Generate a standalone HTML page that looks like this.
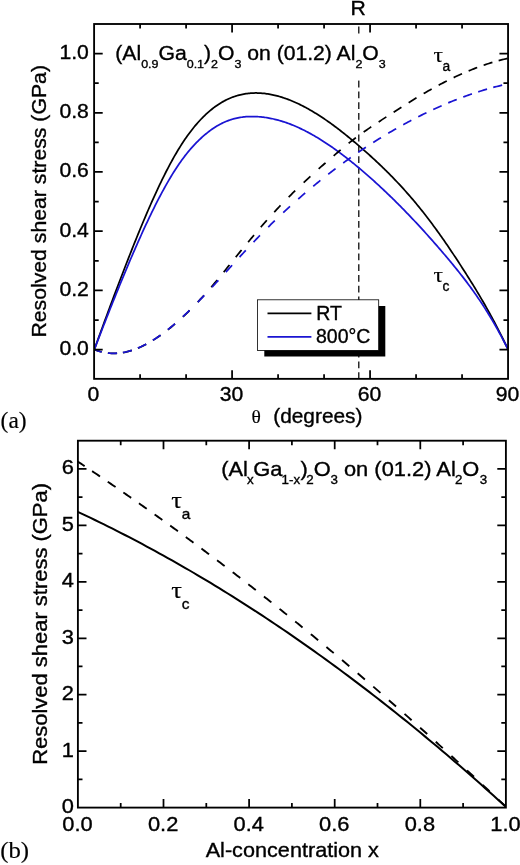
<!DOCTYPE html>
<html lang="en"><head><meta charset="utf-8"><title>Resolved shear stress</title>
<style>html,body{margin:0;padding:0;background:#fff}svg{display:block}text{font-family:"Liberation Sans",Arial,Helvetica,sans-serif;fill:#000;stroke:#000;stroke-width:0.35px}.s{font-family:"Liberation Serif","Times New Roman",serif;stroke-width:0.15px}</style></head><body>
<svg width="520" height="865" viewBox="0 0 520 865">
<rect width="520" height="865" fill="#fff"/>
<clipPath id="ca"><rect x="94.1" y="24.0" width="413.95" height="354.85"/></clipPath>
<g clip-path="url(#ca)" fill="none" stroke-linejoin="round">
<path d="M358.80,24.0 V378.85" stroke="#000" stroke-width="1.25" stroke-dasharray="6.8 4" stroke-dashoffset="8.2"/>
<rect x="112" y="34.2" width="276" height="46" fill="#fff" stroke="none"/>
<path d="M94.30,349.60 L95.45,346.41 L96.60,343.24 L97.75,340.06 L98.90,336.90 L100.05,333.74 L101.20,330.58 L102.35,327.44 L103.50,324.30 L104.65,321.17 L105.80,318.05 L106.94,314.93 L108.09,311.82 L109.24,308.72 L110.39,305.63 L111.54,302.55 L112.69,299.47 L113.84,296.40 L114.99,293.35 L116.14,290.30 L117.29,287.26 L118.44,284.23 L119.59,281.21 L120.74,278.20 L121.89,275.20 L123.04,272.21 L124.19,269.23 L125.34,266.26 L126.49,263.30 L127.64,260.36 L128.78,257.42 L129.93,254.49 L131.08,251.58 L132.23,248.68 L133.38,245.80 L134.53,242.92 L135.68,240.07 L136.83,237.22 L137.98,234.40 L139.13,231.59 L140.28,228.79 L141.43,226.02 L142.58,223.26 L143.73,220.52 L144.88,217.80 L146.03,215.10 L147.18,212.42 L148.33,209.76 L149.48,207.12 L150.63,204.50 L151.78,201.91 L152.92,199.34 L154.07,196.79 L155.22,194.27 L156.37,191.77 L157.52,189.30 L158.67,186.86 L159.82,184.44 L160.97,182.04 L162.12,179.68 L163.27,177.34 L164.42,175.04 L165.57,172.76 L166.72,170.51 L167.87,168.30 L169.02,166.11 L170.17,163.96 L171.32,161.84 L172.47,159.75 L173.62,157.69 L174.76,155.67 L175.91,153.69 L177.06,151.74 L178.21,149.82 L179.36,147.94 L180.51,146.10 L181.66,144.30 L182.81,142.53 L183.96,140.80 L185.11,139.10 L186.26,137.44 L187.41,135.82 L188.56,134.23 L189.71,132.68 L190.86,131.16 L192.01,129.68 L193.16,128.23 L194.31,126.81 L195.46,125.43 L196.61,124.08 L197.75,122.76 L198.90,121.48 L200.05,120.23 L201.20,119.01 L202.35,117.83 L203.50,116.67 L204.65,115.55 L205.80,114.46 L206.95,113.40 L208.10,112.37 L209.25,111.37 L210.40,110.40 L211.55,109.46 L212.70,108.55 L213.85,107.67 L215.00,106.81 L216.15,105.99 L217.30,105.19 L218.45,104.43 L219.60,103.69 L220.75,102.97 L221.89,102.29 L223.04,101.63 L224.19,101.00 L225.34,100.39 L226.49,99.81 L227.64,99.26 L228.79,98.73 L229.94,98.23 L231.09,97.75 L232.24,97.30 L233.39,96.87 L234.54,96.47 L235.69,96.09 L236.84,95.73 L237.99,95.39 L239.14,95.08 L240.29,94.80 L241.44,94.53 L242.59,94.29 L243.74,94.07 L244.88,93.86 L246.03,93.69 L247.18,93.53 L248.33,93.39 L249.48,93.28 L250.63,93.18 L251.78,93.10 L252.93,93.05 L254.08,93.01 L255.23,92.99 L256.38,92.99 L257.53,93.01 L258.68,93.05 L259.83,93.10 L260.98,93.17 L262.13,93.26 L263.28,93.37 L264.43,93.49 L265.58,93.64 L266.72,93.79 L267.87,93.96 L269.02,94.15 L270.17,94.36 L271.32,94.58 L272.47,94.81 L273.62,95.06 L274.77,95.32 L275.92,95.60 L277.07,95.90 L278.22,96.20 L279.37,96.53 L280.52,96.86 L281.67,97.21 L282.82,97.58 L283.97,97.96 L285.12,98.35 L286.27,98.75 L287.42,99.17 L288.57,99.60 L289.71,100.05 L290.86,100.51 L292.01,100.98 L293.16,101.46 L294.31,101.96 L295.46,102.47 L296.61,102.99 L297.76,103.52 L298.91,104.07 L300.06,104.62 L301.21,105.19 L302.36,105.77 L303.51,106.36 L304.66,106.97 L305.81,107.58 L306.96,108.21 L308.11,108.84 L309.26,109.49 L310.41,110.15 L311.56,110.82 L312.70,111.49 L313.85,112.18 L315.00,112.88 L316.15,113.59 L317.30,114.31 L318.45,115.04 L319.60,115.78 L320.75,116.52 L321.90,117.28 L323.05,118.05 L324.20,118.82 L325.35,119.61 L326.50,120.40 L327.65,121.20 L328.80,122.01 L329.95,122.83 L331.10,123.66 L332.25,124.49 L333.40,125.33 L334.55,126.18 L335.69,127.04 L336.84,127.91 L337.99,128.78 L339.14,129.66 L340.29,130.55 L341.44,131.44 L342.59,132.34 L343.74,133.25 L344.89,134.17 L346.04,135.09 L347.19,136.02 L348.34,136.95 L349.49,137.89 L350.64,138.84 L351.79,139.79 L352.94,140.74 L354.09,141.71 L355.24,142.67 L356.39,143.65 L357.54,144.63 L358.69,145.61 L359.83,146.60 L360.98,147.59 L362.13,148.59 L363.28,149.59 L364.43,150.60 L365.58,151.61 L366.73,152.63 L367.88,153.66 L369.03,154.69 L370.18,155.73 L371.33,156.77 L372.48,157.82 L373.63,158.87 L374.78,159.94 L375.93,161.00 L377.08,162.08 L378.23,163.16 L379.38,164.25 L380.53,165.35 L381.68,166.45 L382.82,167.56 L383.97,168.68 L385.12,169.80 L386.27,170.94 L387.42,172.08 L388.57,173.23 L389.72,174.39 L390.87,175.55 L392.02,176.73 L393.17,177.91 L394.32,179.10 L395.47,180.30 L396.62,181.51 L397.77,182.73 L398.92,183.95 L400.07,185.19 L401.22,186.44 L402.37,187.69 L403.52,188.96 L404.67,190.23 L405.81,191.52 L406.96,192.81 L408.11,194.12 L409.26,195.43 L410.41,196.76 L411.56,198.10 L412.71,199.44 L413.86,200.80 L415.01,202.17 L416.16,203.55 L417.31,204.94 L418.46,206.34 L419.61,207.76 L420.76,209.18 L421.91,210.62 L423.06,212.07 L424.21,213.53 L425.36,215.01 L426.51,216.49 L427.66,217.99 L428.80,219.50 L429.95,221.02 L431.10,222.55 L432.25,224.10 L433.40,225.65 L434.55,227.22 L435.70,228.80 L436.85,230.38 L438.00,231.98 L439.15,233.59 L440.30,235.21 L441.45,236.84 L442.60,238.47 L443.75,240.12 L444.90,241.78 L446.05,243.45 L447.20,245.12 L448.35,246.81 L449.50,248.50 L450.64,250.20 L451.79,251.91 L452.94,253.63 L454.09,255.36 L455.24,257.10 L456.39,258.84 L457.54,260.59 L458.69,262.35 L459.84,264.11 L460.99,265.89 L462.14,267.67 L463.29,269.46 L464.44,271.25 L465.59,273.05 L466.74,274.86 L467.89,276.68 L469.04,278.50 L470.19,280.34 L471.34,282.18 L472.49,284.04 L473.63,285.91 L474.78,287.78 L475.93,289.67 L477.08,291.58 L478.23,293.49 L479.38,295.42 L480.53,297.36 L481.68,299.32 L482.83,301.29 L483.98,303.28 L485.13,305.29 L486.28,307.31 L487.43,309.35 L488.58,311.40 L489.73,313.48 L490.88,315.57 L492.03,317.68 L493.18,319.82 L494.33,321.97 L495.48,324.14 L496.62,326.34 L497.77,328.56 L498.92,330.80 L500.07,333.06 L501.22,335.35 L502.37,337.66 L503.52,340.00 L504.67,342.36 L505.82,344.75 L506.97,347.16 L508.12,349.60" stroke="#000" stroke-width="1.75"/>
<path d="M94.30,349.60 L95.45,346.60 L96.60,343.61 L97.75,340.62 L98.90,337.64 L100.05,334.67 L101.20,331.71 L102.35,328.75 L103.50,325.80 L104.65,322.86 L105.80,319.93 L106.94,317.01 L108.09,314.09 L109.24,311.19 L110.39,308.29 L111.54,305.41 L112.69,302.53 L113.84,299.66 L114.99,296.81 L116.14,293.96 L117.29,291.13 L118.44,288.30 L119.59,285.49 L120.74,282.69 L121.89,279.90 L123.04,277.12 L124.19,274.35 L125.34,271.60 L126.49,268.86 L127.64,266.13 L128.78,263.41 L129.93,260.71 L131.08,258.02 L132.23,255.34 L133.38,252.68 L134.53,250.03 L135.68,247.40 L136.83,244.79 L137.98,242.19 L139.13,239.60 L140.28,237.04 L141.43,234.49 L142.58,231.96 L143.73,229.45 L144.88,226.96 L146.03,224.49 L147.18,222.03 L148.33,219.60 L149.48,217.19 L150.63,214.80 L151.78,212.43 L152.92,210.09 L154.07,207.77 L155.22,205.47 L156.37,203.20 L157.52,200.95 L158.67,198.72 L159.82,196.52 L160.97,194.35 L162.12,192.20 L163.27,190.08 L164.42,187.99 L165.57,185.93 L166.72,183.89 L167.87,181.88 L169.02,179.91 L170.17,177.96 L171.32,176.05 L172.47,174.16 L173.62,172.31 L174.76,170.49 L175.91,168.70 L177.06,166.95 L178.21,165.23 L179.36,163.54 L180.51,161.89 L181.66,160.28 L182.81,158.70 L183.96,157.15 L185.11,155.65 L186.26,154.18 L187.41,152.74 L188.56,151.34 L189.71,149.97 L190.86,148.64 L192.01,147.34 L193.16,146.07 L194.31,144.83 L195.46,143.62 L196.61,142.44 L197.75,141.29 L198.90,140.17 L200.05,139.07 L201.20,138.00 L202.35,136.96 L203.50,135.94 L204.65,134.95 L205.80,133.99 L206.95,133.06 L208.10,132.15 L209.25,131.27 L210.40,130.41 L211.55,129.58 L212.70,128.78 L213.85,128.01 L215.00,127.26 L216.15,126.54 L217.30,125.84 L218.45,125.18 L219.60,124.54 L220.75,123.93 L221.89,123.34 L223.04,122.78 L224.19,122.25 L225.34,121.75 L226.49,121.27 L227.64,120.82 L228.79,120.40 L229.94,119.99 L231.09,119.62 L232.24,119.26 L233.39,118.94 L234.54,118.63 L235.69,118.35 L236.84,118.09 L237.99,117.85 L239.14,117.63 L240.29,117.43 L241.44,117.25 L242.59,117.10 L243.74,116.96 L244.88,116.84 L246.03,116.74 L247.18,116.66 L248.33,116.60 L249.48,116.55 L250.63,116.52 L251.78,116.51 L252.93,116.51 L254.08,116.53 L255.23,116.56 L256.38,116.61 L257.53,116.67 L258.68,116.75 L259.83,116.84 L260.98,116.94 L262.13,117.06 L263.28,117.20 L264.43,117.34 L265.58,117.50 L266.72,117.68 L267.87,117.87 L269.02,118.07 L270.17,118.29 L271.32,118.52 L272.47,118.76 L273.62,119.02 L274.77,119.29 L275.92,119.57 L277.07,119.87 L278.22,120.17 L279.37,120.50 L280.52,120.83 L281.67,121.18 L282.82,121.54 L283.97,121.91 L285.12,122.29 L286.27,122.69 L287.42,123.09 L288.57,123.51 L289.71,123.94 L290.86,124.39 L292.01,124.84 L293.16,125.31 L294.31,125.79 L295.46,126.28 L296.61,126.78 L297.76,127.29 L298.91,127.81 L300.06,128.34 L301.21,128.89 L302.36,129.44 L303.51,130.01 L304.66,130.59 L305.81,131.17 L306.96,131.77 L308.11,132.38 L309.26,132.99 L310.41,133.62 L311.56,134.26 L312.70,134.91 L313.85,135.56 L315.00,136.23 L316.15,136.91 L317.30,137.59 L318.45,138.29 L319.60,138.99 L320.75,139.71 L321.90,140.43 L323.05,141.16 L324.20,141.90 L325.35,142.65 L326.50,143.41 L327.65,144.17 L328.80,144.95 L329.95,145.73 L331.10,146.52 L332.25,147.32 L333.40,148.13 L334.55,148.95 L335.69,149.77 L336.84,150.60 L337.99,151.44 L339.14,152.29 L340.29,153.14 L341.44,154.00 L342.59,154.87 L343.74,155.74 L344.89,156.63 L346.04,157.52 L347.19,158.41 L348.34,159.32 L349.49,160.23 L350.64,161.14 L351.79,162.06 L352.94,162.99 L354.09,163.93 L355.24,164.87 L356.39,165.82 L357.54,166.77 L358.69,167.73 L359.83,168.69 L360.98,169.67 L362.13,170.64 L363.28,171.62 L364.43,172.61 L365.58,173.61 L366.73,174.60 L367.88,175.61 L369.03,176.62 L370.18,177.64 L371.33,178.66 L372.48,179.68 L373.63,180.72 L374.78,181.75 L375.93,182.80 L377.08,183.85 L378.23,184.90 L379.38,185.96 L380.53,187.03 L381.68,188.10 L382.82,189.18 L383.97,190.26 L385.12,191.35 L386.27,192.44 L387.42,193.54 L388.57,194.64 L389.72,195.75 L390.87,196.86 L392.02,197.98 L393.17,199.11 L394.32,200.24 L395.47,201.38 L396.62,202.52 L397.77,203.66 L398.92,204.81 L400.07,205.97 L401.22,207.13 L402.37,208.30 L403.52,209.47 L404.67,210.65 L405.81,211.83 L406.96,213.02 L408.11,214.22 L409.26,215.41 L410.41,216.62 L411.56,217.83 L412.71,219.04 L413.86,220.26 L415.01,221.48 L416.16,222.71 L417.31,223.95 L418.46,225.19 L419.61,226.43 L420.76,227.68 L421.91,228.93 L423.06,230.19 L424.21,231.46 L425.36,232.73 L426.51,234.00 L427.66,235.28 L428.80,236.56 L429.95,237.85 L431.10,239.15 L432.25,240.44 L433.40,241.75 L434.55,243.06 L435.70,244.37 L436.85,245.69 L438.00,247.01 L439.15,248.34 L440.30,249.67 L441.45,251.01 L442.60,252.35 L443.75,253.70 L444.90,255.05 L446.05,256.40 L447.20,257.77 L448.35,259.13 L449.50,260.51 L450.64,261.89 L451.79,263.27 L452.94,264.67 L454.09,266.07 L455.24,267.48 L456.39,268.90 L457.54,270.33 L458.69,271.77 L459.84,273.22 L460.99,274.68 L462.14,276.15 L463.29,277.63 L464.44,279.12 L465.59,280.63 L466.74,282.15 L467.89,283.69 L469.04,285.24 L470.19,286.80 L471.34,288.38 L472.49,289.97 L473.63,291.58 L474.78,293.21 L475.93,294.85 L477.08,296.51 L478.23,298.19 L479.38,299.88 L480.53,301.60 L481.68,303.33 L482.83,305.09 L483.98,306.86 L485.13,308.65 L486.28,310.47 L487.43,312.31 L488.58,314.17 L489.73,316.05 L490.88,317.95 L492.03,319.88 L493.18,321.83 L494.33,323.81 L495.48,325.81 L496.62,327.84 L497.77,329.89 L498.92,331.97 L500.07,334.07 L501.22,336.21 L502.37,338.37 L503.52,340.56 L504.67,342.77 L505.82,345.02 L506.97,347.30 L508.12,349.60" stroke="#1a14d2" stroke-width="1.75"/>
<path d="M94.30,349.60 L96.12,350.29 L97.97,350.93 L99.83,351.49 L101.72,351.98 M107.90,353.08 L109.73,353.25 L111.57,353.36 L113.41,353.40 L115.25,353.38 L117.09,353.29 M122.90,352.61 L124.71,352.27 L126.51,351.89 L128.29,351.44 L130.07,350.95 L131.82,350.41 M137.90,348.17 L139.59,347.45 L141.27,346.69 L142.93,345.89 L144.57,345.07 L146.20,344.22 M152.90,340.35 L154.46,339.37 L156.00,338.37 L157.53,337.35 L159.05,336.31 L160.56,335.25 M167.90,329.76 L169.34,328.62 L170.77,327.46 L172.19,326.29 L173.60,325.11 L175.01,323.92 M182.90,316.86 L184.24,315.60 L185.58,314.33 L186.90,313.06 L188.22,311.78 L189.53,310.48 M197.70,302.12 L198.96,300.78 L200.21,299.44 L201.46,298.09 L202.70,296.73 L203.94,295.37 M211.22,287.12 L212.42,285.73 L213.62,284.33 L214.81,282.93 L215.99,281.52 L217.17,280.11 M223.69,272.12 L224.85,270.69 L226.00,269.26 L227.15,267.82 L228.30,266.38 L229.45,264.95 M235.73,257.12 L236.89,255.70 L238.06,254.27 L239.22,252.85 L240.39,251.43 L241.57,250.01 M248.13,242.12 L249.31,240.71 L250.49,239.30 L251.67,237.89 L252.85,236.48 L254.03,235.07 M260.79,227.12 L261.99,225.73 L263.20,224.35 L264.41,222.96 L265.63,221.58 L266.85,220.21 M274.21,212.12 L275.46,210.78 L276.72,209.44 L277.98,208.10 L279.25,206.76 L280.52,205.43 M288.65,197.12 L289.95,195.82 L291.26,194.53 L292.57,193.24 L293.88,191.95 L295.20,190.66 M303.65,182.59 L305.00,181.34 L306.34,180.08 L307.69,178.83 L309.05,177.59 L310.40,176.34 M318.65,168.89 L320.03,167.67 L321.41,166.45 L322.79,165.24 L324.17,164.02 L325.55,162.81 M333.65,155.80 L335.05,154.60 L336.45,153.40 L337.85,152.21 L339.25,151.02 L340.66,149.83 M348.65,143.24 L350.09,142.10 L351.54,140.96 L353.00,139.84 L354.46,138.73 L355.93,137.62 M363.65,132.04 L365.16,130.99 L366.67,129.94 L368.19,128.90 L369.71,127.87 L371.24,126.84 M378.65,121.91 L380.19,120.90 L381.73,119.89 L383.27,118.88 L384.81,117.88 L386.35,116.87 M393.65,112.14 L395.20,111.14 L396.75,110.15 L398.30,109.16 L399.85,108.17 L401.41,107.18 M408.65,102.64 L410.22,101.68 L411.79,100.71 L413.36,99.75 L414.93,98.80 L416.50,97.85 M423.65,93.61 L425.24,92.69 L426.84,91.77 L428.44,90.85 L430.04,89.95 L431.64,89.04 M438.65,85.21 L440.28,84.34 L441.91,83.48 L443.54,82.63 L445.17,81.79 L446.81,80.96 M453.65,77.60 L455.32,76.81 L456.98,76.03 L458.65,75.26 L460.33,74.50 L462.01,73.75 M468.65,70.90 L470.36,70.20 L472.06,69.52 L473.77,68.84 L475.49,68.18 L477.21,67.53 M483.65,65.21 L485.40,64.62 L487.14,64.04 L488.89,63.48 L490.65,62.93 L492.41,62.39 M498.65,60.62 L500.43,60.16 L502.22,59.71 L504.00,59.27 L505.80,58.85 L507.59,58.45" stroke="#000" stroke-width="1.75"/>
<path d="M94.30,349.60 L96.13,350.28 L97.97,350.91 L99.84,351.46 L101.73,351.94 M107.90,353.01 L109.73,353.17 L111.57,353.27 L113.41,353.31 L115.25,353.28 L117.09,353.19 M122.90,352.50 L124.71,352.16 L126.51,351.77 L128.29,351.32 L130.06,350.83 L131.82,350.29 M137.90,348.05 L139.59,347.33 L141.27,346.57 L142.93,345.77 L144.57,344.95 L146.20,344.10 M152.90,340.22 L154.45,339.24 L156.00,338.24 L157.53,337.22 L159.04,336.17 L160.55,335.11 M167.90,329.58 L169.34,328.43 L170.76,327.27 L172.18,326.09 L173.59,324.91 L174.99,323.72 M182.90,316.66 L184.25,315.41 L185.59,314.15 L186.92,312.88 L188.25,311.61 L189.57,310.33 M197.86,302.07 L199.15,300.75 L200.43,299.43 L201.71,298.11 L202.98,296.78 L204.26,295.45 M212.14,287.07 L213.39,285.72 L214.64,284.37 L215.89,283.02 L217.13,281.66 L218.38,280.31 M225.90,272.07 L227.14,270.71 L228.38,269.35 L229.61,267.99 L230.85,266.62 L232.09,265.26 M239.57,257.07 L240.82,255.71 L242.06,254.36 L243.31,253.01 L244.56,251.66 L245.81,250.31 M253.55,242.07 L254.82,240.74 L256.10,239.41 L257.37,238.09 L258.65,236.76 L259.94,235.45 M268.24,227.08 L269.54,225.78 L270.85,224.49 L272.17,223.20 L273.49,221.92 L274.81,220.64 M283.24,212.63 L284.58,211.37 L285.93,210.12 L287.28,208.87 L288.64,207.63 L290.00,206.39 M298.24,199.02 L299.62,197.80 L301.00,196.59 L302.39,195.39 L303.79,194.19 L305.18,192.99 M313.24,186.22 L314.65,185.05 L316.08,183.88 L317.50,182.72 L318.93,181.56 L320.37,180.41 M328.24,174.20 L329.69,173.07 L331.15,171.95 L332.61,170.83 L334.08,169.72 L335.55,168.61 M343.24,162.92 L344.72,161.84 L346.22,160.77 L347.71,159.70 L349.21,158.63 L350.72,157.57 M358.24,152.37 L359.76,151.34 L361.28,150.31 L362.81,149.29 L364.35,148.27 L365.88,147.25 M373.24,142.50 L374.79,141.51 L376.35,140.54 L377.91,139.56 L379.47,138.59 L381.04,137.63 M388.24,133.28 L389.82,132.35 L391.41,131.42 L393.00,130.49 L394.59,129.57 L396.19,128.66 M403.24,124.70 L404.85,123.82 L406.46,122.94 L408.08,122.06 L409.71,121.19 L411.33,120.33 M418.24,116.76 L419.88,115.93 L421.52,115.11 L423.17,114.29 L424.82,113.48 L426.48,112.68 M433.24,109.48 L434.91,108.71 L436.58,107.95 L438.26,107.20 L439.94,106.45 L441.63,105.71 M448.24,102.89 L449.94,102.18 L451.64,101.49 L453.35,100.80 L455.06,100.12 L456.77,99.45 M463.24,97.00 L464.96,96.37 L466.69,95.74 L468.43,95.13 L470.17,94.52 L471.91,93.93 M478.24,91.84 L479.99,91.28 L481.75,90.74 L483.51,90.20 L485.27,89.67 L487.04,89.15 M493.24,87.42 L495.01,86.95 L496.79,86.48 L498.58,86.03 L500.36,85.59 L502.15,85.16" stroke="#1a14d2" stroke-width="1.75"/>
</g>
<rect x="94.1" y="24.0" width="413.95" height="354.85" fill="none" stroke="#000" stroke-width="1.85"/>
<path d="M140.09,378.85 v-4.6 M140.09,24.0 v4.6 M186.09,378.85 v-4.6 M186.09,24.0 v4.6 M232.08,378.85 v-8.6 M232.08,24.0 v8.6 M278.08,378.85 v-4.6 M278.08,24.0 v4.6 M324.07,378.85 v-4.6 M324.07,24.0 v4.6 M370.07,378.85 v-8.6 M370.07,24.0 v8.6 M416.06,378.85 v-4.6 M416.06,24.0 v4.6 M462.06,378.85 v-4.6 M462.06,24.0 v4.6 M94.1,349.60 h8.6 M508.05,349.60 h-8.6 M94.1,320.00 h4.6 M508.05,320.00 h-4.6 M94.1,290.39 h8.6 M508.05,290.39 h-8.6 M94.1,260.79 h4.6 M508.05,260.79 h-4.6 M94.1,231.18 h8.6 M508.05,231.18 h-8.6 M94.1,201.58 h4.6 M508.05,201.58 h-4.6 M94.1,171.97 h8.6 M508.05,171.97 h-8.6 M94.1,142.37 h4.6 M508.05,142.37 h-4.6 M94.1,112.76 h8.6 M508.05,112.76 h-8.6 M94.1,83.16 h4.6 M508.05,83.16 h-4.6 M94.1,53.55 h8.6 M508.05,53.55 h-8.6" stroke="#000" stroke-width="1.75" fill="none"/>
<text transform="translate(88.80,355.05) scale(1.085,1)" font-size="19.5" text-anchor="end">0.0</text>
<text transform="translate(88.80,295.84) scale(1.085,1)" font-size="19.5" text-anchor="end">0.2</text>
<text transform="translate(88.80,236.63) scale(1.085,1)" font-size="19.5" text-anchor="end">0.4</text>
<text transform="translate(88.80,177.42) scale(1.085,1)" font-size="19.5" text-anchor="end">0.6</text>
<text transform="translate(88.80,118.21) scale(1.085,1)" font-size="19.5" text-anchor="end">0.8</text>
<text transform="translate(88.80,59.00) scale(1.085,1)" font-size="19.5" text-anchor="end">1.0</text>
<text transform="translate(93.40,400.60) scale(1.085,1)" font-size="19.5" text-anchor="middle">0</text>
<text transform="translate(231.48,400.60) scale(1.085,1)" font-size="19.5" text-anchor="middle">30</text>
<text transform="translate(369.47,400.60) scale(1.085,1)" font-size="19.5" text-anchor="middle">60</text>
<text transform="translate(507.45,400.60) scale(1.085,1)" font-size="19.5" text-anchor="middle">90</text>
<text transform="translate(46.00,201.30) rotate(-90) scale(1.09,1)" font-size="19.5" text-anchor="middle">Resolved shear stress (GPa)</text>
<text transform="translate(251.50,423.00) scale(1.0,1)" font-size="19.5" class="s">θ</text>
<text transform="translate(273.20,423.10) scale(1.07,1)" font-size="19.5">(degrees)</text>
<text transform="translate(358.20,15.00) scale(1.085,1)" font-size="19.5" text-anchor="middle">R</text>
<text transform="translate(115.30,60.20) scale(1.085,1)" font-size="19.5">(Al<tspan font-size="11.50" dy="7.5">0.9</tspan><tspan font-size="19.5" dy="-7.5">Ga</tspan><tspan font-size="11.50" dy="7.5">0.1</tspan><tspan font-size="19.5" dy="-7.5">)</tspan><tspan font-size="11.50" dy="7.5">2</tspan><tspan font-size="19.5" dy="-7.5">O</tspan><tspan font-size="11.50" dy="7.5">3</tspan><tspan font-size="19.5" dy="-7.5"> on (01.2) Al</tspan><tspan font-size="11.50" dy="7.5">2</tspan><tspan font-size="19.5" dy="-7.5">O</tspan><tspan font-size="11.50" dy="7.5">3</tspan></text>
<text transform="translate(433.60,61.70) scale(1.1,1)" font-size="21.5" class="s">τ</text>
<text transform="translate(442.60,70.60) scale(1.0,1)" font-size="13.8">a</text>
<text transform="translate(433.60,281.70) scale(1.1,1)" font-size="21.5" class="s">τ</text>
<text transform="translate(442.60,290.60) scale(1.0,1)" font-size="13.8">c</text>
<rect x="264.3" y="306" width="121" height="50.5" fill="#000"/>
<rect x="257.5" y="299.8" width="121.2" height="50.6" fill="#fff" stroke="#000" stroke-width="0.8"/>
<path d="M267.5,313.4 H311.4" stroke="#000" stroke-width="1.85"/>
<path d="M267.5,336.9 H311.4" stroke="#1a14d2" stroke-width="1.85"/>
<text transform="translate(316.30,320.00) scale(1.0,1)" font-size="19.5">RT</text>
<text transform="translate(316.00,343.40) scale(1.0,1)" font-size="19.5">800°C</text>
<text transform="translate(0.60,428.30) scale(1.0,1)" font-size="23.5" class="s">(a)</text>
<clipPath id="cb"><rect x="77.9" y="440.7" width="428.00" height="366.90"/></clipPath>
<g clip-path="url(#cb)" fill="none" stroke="#000" stroke-linejoin="round">
<path d="M77.80,461.58 L79.17,462.49 L80.53,463.39 L81.90,464.30 L83.26,465.21 L84.63,466.12 M92.12,471.13 L93.70,472.19 L95.27,473.25 L96.85,474.31 L98.42,475.37 L100.00,476.44 M107.74,481.70 L109.31,482.77 L110.88,483.84 L112.45,484.92 L114.01,485.99 L115.58,487.07 M123.36,492.44 L124.92,493.52 L126.48,494.60 L128.04,495.69 L129.60,496.77 L131.16,497.86 M138.98,503.34 L140.53,504.43 L142.09,505.53 L143.64,506.62 L145.19,507.72 L146.74,508.82 M154.60,514.41 L156.15,515.51 L157.69,516.62 L159.24,517.72 L160.78,518.83 L162.32,519.94 M170.22,525.64 L171.76,526.75 L173.30,527.87 L174.83,528.99 L176.37,530.10 L177.90,531.22 M185.84,537.03 L187.37,538.16 L188.90,539.29 L190.43,540.41 L191.96,541.54 L193.49,542.67 M201.46,548.59 L202.98,549.73 L204.50,550.87 L206.03,552.01 L207.55,553.15 L209.07,554.29 M217.08,560.32 L218.60,561.47 L220.11,562.61 L221.62,563.76 L223.14,564.91 L224.65,566.06 M232.70,572.21 L234.21,573.37 L235.71,574.52 L237.22,575.68 L238.73,576.84 L240.23,578.00 M248.32,584.27 L249.82,585.43 L251.32,586.60 L252.82,587.77 L254.32,588.94 L255.81,590.11 M263.94,596.49 L265.43,597.66 L266.92,598.84 L268.41,600.02 L269.91,601.20 L271.39,602.38 M279.56,608.87 L281.04,610.06 L282.53,611.24 L284.01,612.43 L285.49,613.62 L286.98,614.81 M295.18,621.42 L296.66,622.62 L298.13,623.81 L299.61,625.01 L301.08,626.21 L302.56,627.41 M310.80,634.14 L312.27,635.34 L313.74,636.54 L315.21,637.75 L316.67,638.96 L318.14,640.17 M326.42,647.01 L327.88,648.23 L329.34,649.44 L330.80,650.66 L332.26,651.87 L333.72,653.09 M342.04,660.06 L343.49,661.28 L344.95,662.50 L346.40,663.73 L347.85,664.95 L349.30,666.18 M357.66,673.27 L359.11,674.50 L360.55,675.73 L362.00,676.96 L363.44,678.20 L364.89,679.43 M373.28,686.64 L374.72,687.88 L376.16,689.12 L377.60,690.36 L379.03,691.61 L380.47,692.85 M388.90,700.18 L390.33,701.43 L391.76,702.68 L393.19,703.93 L394.62,705.18 L396.05,706.43 M404.52,713.88 L405.94,715.14 L407.37,716.40 L408.79,717.66 L410.21,718.92 L411.63,720.18 M420.14,727.75 L421.56,729.01 L422.97,730.28 L424.39,731.55 L425.80,732.82 L427.22,734.08 M435.76,741.78 L437.17,743.05 L438.58,744.33 L439.99,745.61 L441.39,746.88 L442.80,748.16 M451.38,755.98 L452.78,757.26 L454.18,758.54 L455.58,759.83 L456.98,761.11 L458.38,762.40 M467.00,770.34 L468.39,771.63 L469.79,772.92 L471.18,774.21 L472.57,775.50 L473.97,776.80 M482.62,784.87 L484.01,786.16 L485.39,787.46 L486.78,788.76 L488.17,790.06 L489.55,791.36 M498.24,799.56 L499.62,800.86 L501.00,802.17 L502.38,803.48 L503.76,804.78 L505.13,806.09" stroke-width="1.9"/>
<path d="M77.80,511.86 L82.08,513.86 L86.37,515.89 L90.66,517.94 L94.94,520.00 L99.22,522.08 L103.51,524.19 L107.80,526.31 L112.08,528.45 L116.36,530.61 L120.65,532.79 L124.94,534.99 L129.22,537.20 L133.50,539.44 L137.79,541.69 L142.07,543.97 L146.36,546.26 L150.64,548.58 L154.93,550.91 L159.22,553.26 L163.50,555.63 L167.78,558.02 L172.07,560.43 L176.36,562.85 L180.64,565.30 L184.93,567.77 L189.21,570.25 L193.50,572.76 L197.78,575.28 L202.06,577.82 L206.35,580.38 L210.63,582.96 L214.92,585.56 L219.20,588.18 L223.49,590.82 L227.78,593.48 L232.06,596.15 L236.34,598.85 L240.63,601.56 L244.92,604.30 L249.20,607.05 L253.49,609.82 L257.77,612.61 L262.06,615.42 L266.34,618.25 L270.62,621.10 L274.91,623.97 L279.19,626.85 L283.48,629.76 L287.76,632.68 L292.05,635.63 L296.33,638.59 L300.62,641.57 L304.91,644.57 L309.19,647.59 L313.48,650.63 L317.76,653.69 L322.05,656.77 L326.33,659.87 L330.62,662.98 L334.90,666.12 L339.19,669.27 L343.47,672.45 L347.75,675.64 L352.04,678.85 L356.33,682.08 L360.61,685.33 L364.90,688.60 L369.18,691.89 L373.47,695.19 L377.75,698.52 L382.03,701.87 L386.32,705.23 L390.61,708.61 L394.89,712.02 L399.18,715.44 L403.46,718.88 L407.75,722.34 L412.03,725.82 L416.32,729.32 L420.60,732.84 L424.89,736.37 L429.17,739.93 L433.46,743.50 L437.74,747.10 L442.02,750.71 L446.31,754.34 L450.60,757.99 L454.88,761.66 L459.17,765.35 L463.45,769.06 L467.74,772.79 L472.02,776.54 L476.31,780.30 L480.59,784.09 L484.88,787.89 L489.16,791.72 L493.44,795.56 L497.73,799.42 L502.01,803.30 L506.30,807.20" stroke-width="2"/>
</g>
<rect x="77.9" y="440.7" width="428.00" height="366.90" fill="none" stroke="#000" stroke-width="1.85"/>
<path d="M120.70,807.6 v-4.6 M120.70,440.7 v4.6 M163.50,807.6 v-8.6 M163.50,440.7 v8.6 M206.30,807.6 v-4.6 M206.30,440.7 v4.6 M249.10,807.6 v-8.6 M249.10,440.7 v8.6 M291.90,807.6 v-4.6 M291.90,440.7 v4.6 M334.70,807.6 v-8.6 M334.70,440.7 v8.6 M377.50,807.6 v-4.6 M377.50,440.7 v4.6 M420.30,807.6 v-8.6 M420.30,440.7 v8.6 M463.10,807.6 v-4.6 M463.10,440.7 v4.6 M77.9,779.38 h4.6 M505.9,779.38 h-4.6 M77.9,751.15 h8.6 M505.9,751.15 h-8.6 M77.9,722.93 h4.6 M505.9,722.93 h-4.6 M77.9,694.71 h8.6 M505.9,694.71 h-8.6 M77.9,666.48 h4.6 M505.9,666.48 h-4.6 M77.9,638.26 h8.6 M505.9,638.26 h-8.6 M77.9,610.04 h4.6 M505.9,610.04 h-4.6 M77.9,581.82 h8.6 M505.9,581.82 h-8.6 M77.9,553.59 h4.6 M505.9,553.59 h-4.6 M77.9,525.37 h8.6 M505.9,525.37 h-8.6 M77.9,497.15 h4.6 M505.9,497.15 h-4.6 M77.9,468.92 h8.6 M505.9,468.92 h-8.6" stroke="#000" stroke-width="1.75" fill="none"/>
<text transform="translate(73.80,813.10) scale(1.085,1)" font-size="20.15" text-anchor="end">0</text>
<text transform="translate(73.80,756.65) scale(1.085,1)" font-size="20.15" text-anchor="end">1</text>
<text transform="translate(73.80,700.21) scale(1.085,1)" font-size="20.15" text-anchor="end">2</text>
<text transform="translate(73.80,643.76) scale(1.085,1)" font-size="20.15" text-anchor="end">3</text>
<text transform="translate(73.80,587.32) scale(1.085,1)" font-size="20.15" text-anchor="end">4</text>
<text transform="translate(73.80,530.87) scale(1.085,1)" font-size="20.15" text-anchor="end">5</text>
<text transform="translate(73.80,474.42) scale(1.085,1)" font-size="20.15" text-anchor="end">6</text>
<text transform="translate(77.50,831.30) scale(1.085,1)" font-size="20.15" text-anchor="middle">0.0</text>
<text transform="translate(163.10,831.30) scale(1.085,1)" font-size="20.15" text-anchor="middle">0.2</text>
<text transform="translate(248.70,831.30) scale(1.085,1)" font-size="20.15" text-anchor="middle">0.4</text>
<text transform="translate(334.30,831.30) scale(1.085,1)" font-size="20.15" text-anchor="middle">0.6</text>
<text transform="translate(419.90,831.30) scale(1.085,1)" font-size="20.15" text-anchor="middle">0.8</text>
<text transform="translate(505.50,831.30) scale(1.085,1)" font-size="20.15" text-anchor="middle">1.0</text>
<text transform="translate(47.10,623.90) rotate(-90) scale(1.09,1)" font-size="20.15" text-anchor="middle">Resolved shear stress (GPa)</text>
<text transform="translate(292.30,856.60) scale(1.075,1)" font-size="20.15" text-anchor="middle">Al-concentration x</text>
<text transform="translate(221.20,476.00) scale(1.085,1)" font-size="20.15">(Al<tspan font-size="12.29" dy="7.5" dx="-0.83">x</tspan><tspan font-size="20.15" dy="-7.5" dx="-0.28">Ga</tspan><tspan font-size="12.29" dy="7.5" dx="-0.92">1-x</tspan><tspan font-size="20.15" dy="-7.5" dx="0.46">)</tspan><tspan font-size="12.29" dy="7.5" dx="-1.38">2</tspan><tspan font-size="20.15" dy="-7.5" dx="0.09">O</tspan><tspan font-size="12.29" dy="7.5" dx="-0.28">3</tspan><tspan font-size="20.15" dy="-7.5" dx="-0.09"> on (01.2) Al</tspan><tspan font-size="12.29" dy="7.5" dx="-0.65">2</tspan><tspan font-size="20.15" dy="-7.5" dx="-0.09">O</tspan><tspan font-size="12.29" dy="7.5" dx="0.28">3</tspan></text>
<text transform="translate(171.20,507.90) scale(1.2,1)" font-size="22.3" class="s">τ</text>
<text transform="translate(181.70,518.60) scale(1.06,1)" font-size="14.6">a</text>
<text transform="translate(171.20,597.90) scale(1.2,1)" font-size="22.3" class="s">τ</text>
<text transform="translate(181.70,608.60) scale(1.06,1)" font-size="14.6">c</text>
<text transform="translate(0.20,858.30) scale(1.03,1)" font-size="24" class="s">(b)</text>
</svg></body></html>
